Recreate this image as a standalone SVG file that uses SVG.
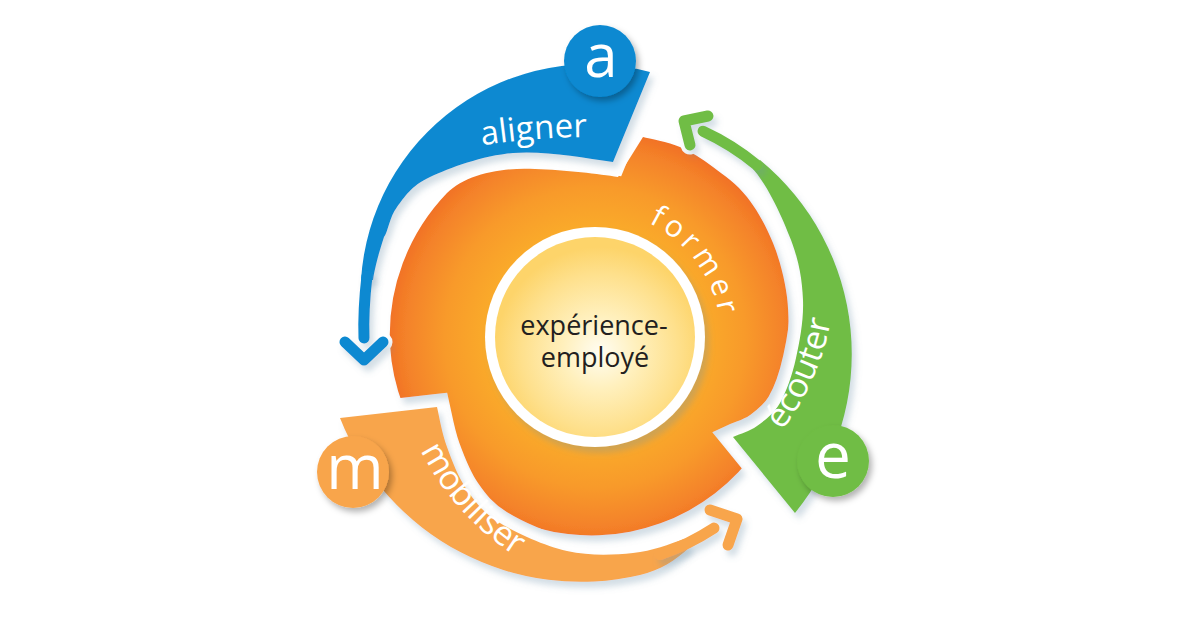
<svg xmlns="http://www.w3.org/2000/svg" width="1200" height="627" viewBox="0 0 1200 627">
<style>
.lbl{font-family:"Open Sans","Liberation Sans",sans-serif;fill:#fff;text-anchor:middle;}
.ctr{font-family:"Open Sans","Liberation Sans",sans-serif;fill:#231f20;font-size:27px;text-anchor:middle;}
.ltr{font-family:"Open Sans","Liberation Sans",sans-serif;fill:#fff;text-anchor:middle;}
.tail{fill:none;stroke-linecap:round;stroke-linejoin:round;stroke-width:11;}
</style>
<defs>
<radialGradient id="gOr" gradientUnits="userSpaceOnUse" cx="595" cy="337" r="215">
<stop offset="0" stop-color="#fbb52c"/>
<stop offset="0.5" stop-color="#faab2a"/>
<stop offset="0.7" stop-color="#f89a2a"/>
<stop offset="0.88" stop-color="#f48229"/>
<stop offset="1" stop-color="#f06a24"/>
</radialGradient>
<radialGradient id="gY" gradientUnits="userSpaceOnUse" cx="600" cy="352" r="105">
<stop offset="0" stop-color="#fffdf2"/>
<stop offset="0.35" stop-color="#fff0bd"/>
<stop offset="0.75" stop-color="#fee08c"/>
<stop offset="1" stop-color="#fdd46a"/>
</radialGradient>
<filter id="sh" filterUnits="userSpaceOnUse" x="0" y="0" width="1200" height="627">
<feDropShadow dx="4" dy="6" stdDeviation="3" flood-color="#6f93ab" flood-opacity="0.3"/>
</filter>
<filter id="shc" filterUnits="userSpaceOnUse" x="0" y="0" width="1200" height="627">
<feDropShadow dx="3" dy="4" stdDeviation="3" flood-color="#000" flood-opacity="0.3"/>
</filter>
<path id="pBlue" d="M650,72 A230,230 0 0 0 361,280 L373,280 C375,266.2 380,249.2 384,237 C388,232.3 389.3,217 397,207 C404.7,197 410.7,186 430,177 C449.3,168 482.5,155.5 513,153 C543.5,150.5 581.8,157.5 613,162 Z"/>
<path id="pGreen" d="M760,160 A251,251 0 0 1 795,513 L733,437 C741,433.3 749.2,431.7 757,426 C764.8,420.3 773.5,414.3 780,403 C786.5,391.7 792.2,375.2 796,358 C799.8,340.8 803.8,319.7 803,300 C802.2,280.3 799.3,261.8 791,240 C782.7,218.2 768.2,186 753,169 Z"/>
<path id="pMob" d="M437,407 L340,418 A259,259 0 0 0 640,575 C660,570 675,561 690,547 L684,539 C669.5,544.2 652.5,551 633,553 C613.5,555 589.2,556 567,551 C544.8,546 516.7,533.2 500,523 C483.3,512.8 475.8,502.7 467,490 C458.2,477.3 452,460.8 447,447 C442,433.2 439.5,418.2 437,407 Z"/>
<path id="tBlue" d="M367,276 Q363,310 364,338"/>
<path id="tGreen" d="M757,165.2 A245,245 0 0 0 703,131.2"/>
<path id="tMob" d="M660,554.6 A245,245 0 0 0 714,528.1"/>
<path id="cBlue" d="M345,342 L364,360 L383,342"/>
<path id="cGreen" d="M708,116 L684,121 L690,145"/>
<path id="cMob" d="M710,510 L737,519 L728,545"/>
<path id="tpFormer" d="M485.9,274 A126,126 0 0 1 713.4,380.1"/>
<path id="tpAlign" d="M420,158 A700,700 0 0 1 660,140.5"/>
<path id="tpMob" d="M393,353.4 A268,268 0 0 0 636.6,597"/>
<path id="tpEc" d="M704,499.9 A262,262 0 0 0 826.1,205.2"/>
<mask id="cut" maskUnits="userSpaceOnUse" x="0" y="0" width="1200" height="627">
<rect width="1200" height="627" fill="#fff"/>
<g fill="#000" stroke="#000" stroke-width="26" stroke-linejoin="miter">
<use href="#pBlue"/>
<use href="#pGreen"/>
<use href="#pMob"/>
</g>
<g fill="none" stroke="#000" stroke-linecap="round" stroke-linejoin="round">
<use href="#tBlue" stroke-width="37"/>
<use href="#tGreen" stroke-width="37"/>
<use href="#tMob" stroke-width="37"/>
<use href="#cBlue" stroke-width="19"/>
<use href="#cGreen" stroke-width="19"/>
<use href="#cMob" stroke-width="19"/>
</g>
</mask>
</defs>
<rect width="1200" height="627" fill="#fff"/>

<g id="node-former">
<g filter="url(#sh)">
<path mask="url(#cut)" fill="url(#gOr)" d="M643,137 C649.2,138.7 668.3,142 680,147 C691.7,152 701.8,158.7 713,167 C724.2,175.3 737,184.3 747,197 C757,209.7 766.3,226.3 773,243 C779.7,259.7 784.7,278.7 787,297 C789.3,315.3 788.7,335.3 787,353 C785.3,370.7 781.8,387.2 777,403 C772.2,418.8 765.8,433.5 758,448 A202,202 0 0 1 390,345 A205,205 0 0 1 447,193 C465,175 500,167 535,169 C565,170 600,174 618,177 Z"/>
</g>
<text class="lbl" font-size="30" letter-spacing="4.4"><textPath href="#tpFormer" startOffset="249">former</textPath></text>
</g>

<g id="node-center">
<g filter="url(#sh)"><circle cx="595" cy="337" r="110" fill="#fff"/></g>
<circle cx="595" cy="337" r="100" fill="url(#gY)"/>
<text class="ctr" x="594" y="335">expérience-</text>
<text class="ctr" x="595" y="367">employé</text>
</g>

<g id="node-aligner">
<use href="#pBlue" fill="#0a89d1" filter="url(#sh)"/>
<text class="lbl" font-size="33"><textPath href="#tpAlign" startOffset="116">aligner</textPath></text>
<circle cx="600" cy="61" r="36" fill="#0a89d1" filter="url(#shc)"/>
<text class="ltr" x="601" y="77" font-size="60">a</text>
</g>

<g id="node-ecouter">
<use href="#pGreen" fill="#70bd44" filter="url(#sh)"/>
<text class="lbl" font-size="34"><textPath href="#tpEc" startOffset="166">écouter</textPath></text>
<circle cx="833" cy="461" r="36" fill="#70bd44" filter="url(#shc)"/>
<text class="ltr" x="833" y="478" font-size="64">e</text>
</g>

<g id="node-mobiliser">
<use href="#pMob" fill="#f8a54c" filter="url(#sh)"/>
<text class="lbl" font-size="34" letter-spacing="-0.5"><textPath href="#tpMob" startOffset="173">mobiliser</textPath></text>
<circle cx="353" cy="472" r="36" fill="#f8a54c" filter="url(#shc)"/>
<text class="ltr" x="355" y="489" font-size="62">m</text>
</g>

<g id="connectors" filter="url(#sh)">
<use href="#tBlue" class="tail" stroke="#0a89d1"/>
<use href="#cBlue" class="tail" stroke="#0a89d1"/>
<use href="#tGreen" class="tail" stroke="#70bd44"/>
<use href="#cGreen" class="tail" stroke="#70bd44"/>
<use href="#tMob" class="tail" stroke="#f8a54c"/>
<use href="#cMob" class="tail" stroke="#f8a54c"/>
</g>
</svg>
